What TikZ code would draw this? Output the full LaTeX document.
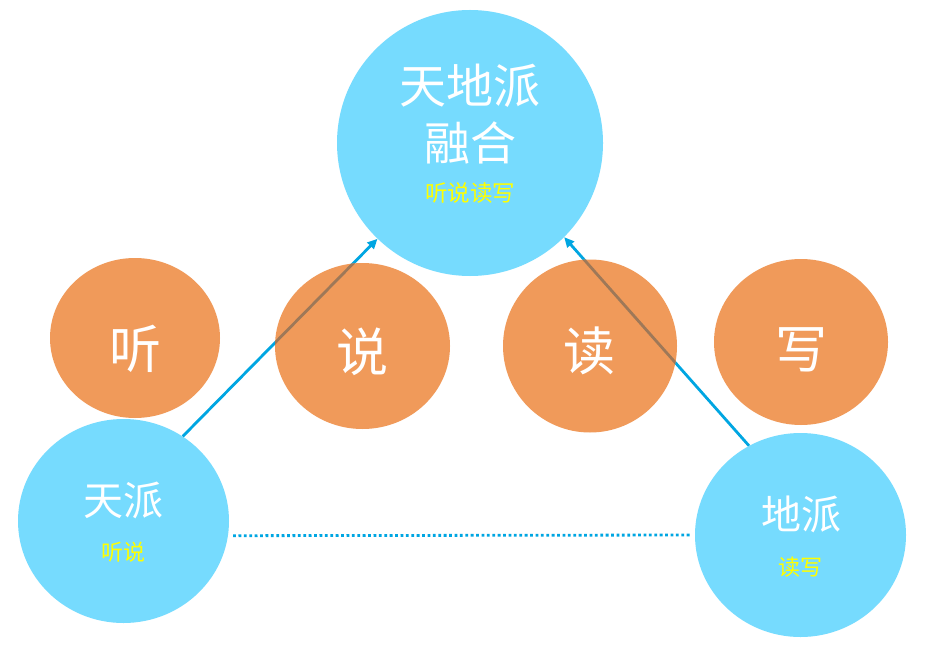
\documentclass[tikz,border=0pt]{standalone}
\usepackage{fontspec}
\setmainfont{Noto Sans CJK SC}
\usetikzlibrary{shapes.geometric,arrows.meta}
\definecolor{cblue}{RGB}{118,219,254}
\definecolor{corange}{RGB}{240,154,90}
\definecolor{cline}{RGB}{0,166,226}
\definecolor{cdark}{RGB}{158,120,88}
\definecolor{cyel}{RGB}{255,255,0}
\tikzset{
  bigc/.style={ellipse, fill=cblue, inner sep=0pt},
  orc/.style={ellipse, fill=corange, inner sep=0pt},
  wtxt/.style={text=white, inner sep=0pt, font=#1},
  ytxt/.style={text=cyel, inner sep=0pt, font=#1},
  conn/.style={draw=cline, line width=2.8pt, -{Triangle[length=10pt,width=9pt]}},
  dotln/.style={draw=cline, line width=2.8pt, dash pattern=on 2.8pt off 2.6pt},
}
\begin{document}
\begin{tikzpicture}[x=1pt,y=-1pt]
\useasboundingbox[fill=white] (0,0) rectangle (933,652);
% circles
\node[bigc, minimum width=266pt, minimum height=266pt] (top) at (470,143) {};
\node[bigc, minimum width=211pt, minimum height=204pt] (tp) at (123.5,521) {};
\node[bigc, minimum width=211pt, minimum height=204pt] (dp) at (800.5,535) {};
% connectors
\draw[conn] (tp.55) -- (top.226);
\draw[conn] (dp.120) -- (top.315);
\draw[dotln, shorten <=5pt, shorten >=3pt] (tp.-8) -- (dp.180);
% orange ellipses
\node[orc, minimum width=170pt, minimum height=160pt] (ting) at (135,338) {};
\node[orc, minimum width=175pt, minimum height=166pt] (shuo) at (362.5,346) {};
\node[orc, minimum width=174pt, minimum height=173pt] (du) at (590,346) {};
\node[orc, minimum width=174pt, minimum height=166pt] (xie) at (801,342) {};
% line seen through the orange ellipses
\begin{scope}
\clip (shuo.center) ellipse [x radius=87.5pt, y radius=83pt];
\draw[draw=cdark, line width=2.8pt] (tp.55) -- (top.226);
\end{scope}
\begin{scope}
\clip (du.center) ellipse [x radius=87pt, y radius=86.5pt];
\draw[draw=cdark, line width=2.8pt] (dp.120) -- (top.315);
\end{scope}
% texts
\node[wtxt={\fontsize{47}{50}\selectfont}] (t1) at (470,86) {天地派};
\node[wtxt={\fontsize{46}{50}\selectfont}] (t2) at (470,143) {融合};
\node[ytxt={\fontsize{22.5}{25}\selectfont}] (t3) at (470,193) {听说读写};
\node[wtxt={\fontsize{52}{55}\selectfont}] (l1) at (135,349) {听};
\node[wtxt={\fontsize{52}{55}\selectfont}] (l2) at (362,352) {说};
\node[wtxt={\fontsize{52}{55}\selectfont}] (l3) at (589,351) {读};
\node[wtxt={\fontsize{52}{55}\selectfont}] (l4) at (801,350) {写};
\node[wtxt={\fontsize{40}{44}\selectfont}] (tpn) at (123.5,500) {天派};
\node[ytxt={\fontsize{22}{25}\selectfont}] (tps) at (123.5,552) {听说};
\node[wtxt={\fontsize{40}{44}\selectfont}] (dpn) at (801,514) {地派};
\node[ytxt={\fontsize{22}{25}\selectfont}] (dps) at (800.5,567) {读写};
\end{tikzpicture}
\end{document}
